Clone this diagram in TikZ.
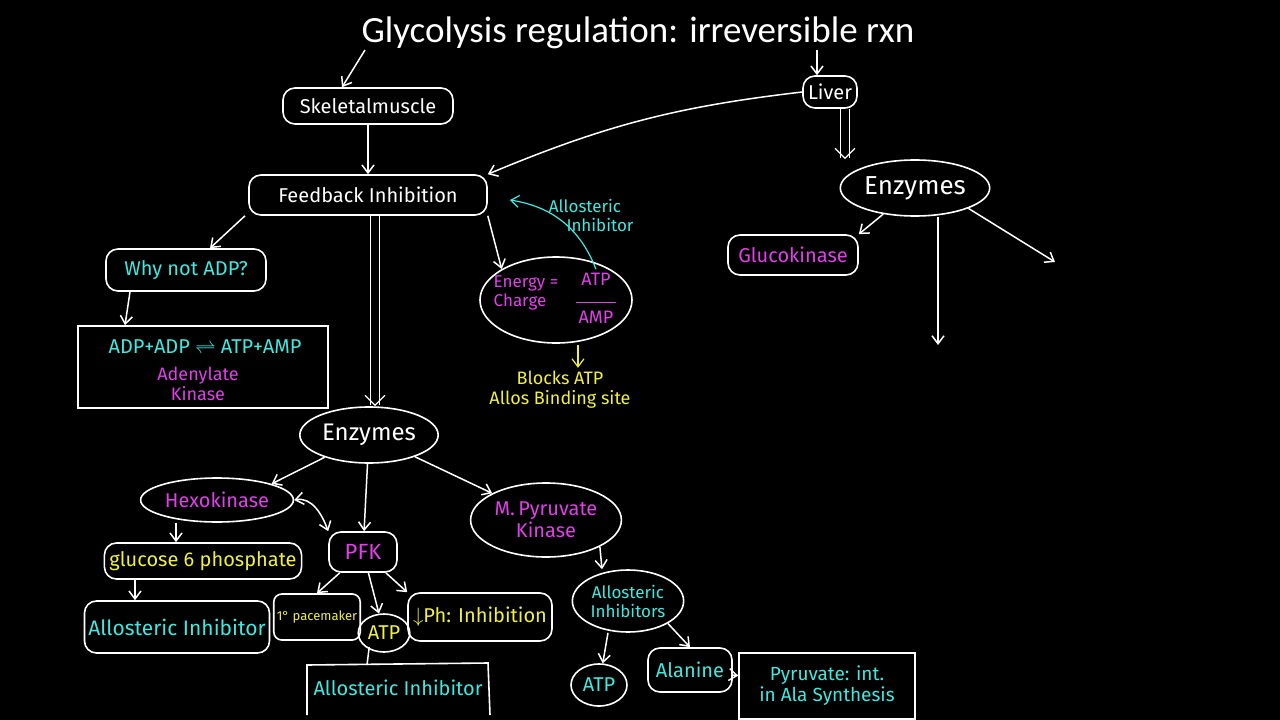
\documentclass[tikz,border=0pt]{standalone}
\usepackage{fontspec}
\setmainfont{Fira Sans}
\newfontfamily\titlefont{Carlito}
\usetikzlibrary{shapes.geometric,arrows.meta}
\definecolor{mag}{HTML}{E040E8}
\definecolor{cy}{HTML}{40E8E0}
\definecolor{yel}{HTML}{F0F040}
\tikzset{
  every node/.style={font=\fontsize{20}{22}\selectfont, align=center},
  rbox/.style={draw=white, line width=1.6pt, rounded corners=12pt, inner sep=5pt},
  sbox/.style={draw=white, line width=1.6pt, inner sep=5pt},
  ebox/.style={draw=white, line width=1.6pt, ellipse, inner sep=2pt},
  arr/.style={draw=white, line width=1.5pt, -{Straight Barb[length=8pt,width=12pt]}},
  dbl/.style={draw=white, line width=1.3pt, double=black, double distance=8pt, -{Straight Barb[length=10pt,width=20pt]}},
}
\begin{document}
\begin{tikzpicture}[x=1pt,y=-1pt]
\fill[black] (0,0) rectangle (1280,720);
\useasboundingbox (0,0) rectangle (1280,720);
\node[text=white, font=\titlefont\fontsize{37}{39}\selectfont] (title) at (638,33) {Glycolysis regulation: irreversible rxn};
\node[rbox, text=white, minimum width=170pt, minimum height=36pt] (skel) at (368,106) {Skeletalmuscle};
\node[rbox, text=white, minimum height=32pt] (liver) at (830,92) {Liver};
\node[rbox, text=white, minimum width=238pt, minimum height=40pt] (fb) at (368,195) {Feedback Inhibition};
\node[ebox, text=white, minimum width=140pt, minimum height=56pt, font=\fontsize{26}{28}\selectfont] (enzR) at (915,188) {Enzymes};
\node[rbox, text=mag, minimum width=130pt, minimum height=40pt] (gluco) at (793,255) {Glucokinase};
\node[rbox, text=cy, minimum width=160pt, minimum height=42pt] (why) at (186,270) {Why not ADP?};
\node[sbox, text=cy, minimum width=250pt, minimum height=82pt] (adp) at (203,367) {};
\node[text=cy] (adpt) at (205,347) {ADP+ADP $\rightleftharpoons$ ATP+AMP};
\node[text=mag, font=\fontsize{18}{20}\selectfont] (aden) at (198,384) {Adenylate\\Kinase};
\node[ebox, minimum width=152pt, minimum height=86pt] (en) at (556,300) {};
\node[text=mag, font=\fontsize{17}{19}\selectfont, align=left] (ect) at (526,293) {Energy =\\Charge};
\node[text=mag, font=\fontsize{18}{20}\selectfont] (frac) at (596,298) {ATP\\[-2pt]\rule{40pt}{1pt}\\AMP};
\node[text=cy, font=\fontsize{17}{19}\selectfont] (allab) at (585,215) {Allosteric\\\hspace*{30pt}Inhibitor};
\coordinate (alt) at (510,200);
\draw[arr, draw=cy, line width=1.2pt] (frac.north) to[bend right=30] (alt);
\node[text=yel, font=\fontsize{18}{20}\selectfont] (blk) at (560,390) {Blocks ATP\\Allos Binding site};
\draw[arr, draw=yel, line width=1.2pt] (578,345) -- (blk.north -| 578,0);
\node[ebox, text=white, minimum width=122pt, minimum height=56pt, font=\fontsize{24}{26}\selectfont] (enzL) at (369,435) {Enzymes};
\node[ebox, text=mag, minimum width=118pt, minimum height=44pt] (hexo) at (217,500) {Hexokinase};
\node[rbox, text=mag, minimum width=68pt, minimum height=40pt, font=\fontsize{22}{24}\selectfont] (pfk) at (363,552) {PFK};
\node[ebox, text=mag, minimum width=124pt, minimum height=74pt] (mpk) at (546,520) {M.\,Pyruvate\\Kinase};
\node[rbox, text=yel, minimum width=176pt, minimum height=36pt] (g6p) at (203,561) {glucose 6 phosphate};
\node[rbox, text=cy, minimum width=185pt, minimum height=52pt, font=\fontsize{21}{23}\selectfont, inner sep=3pt] (allo1) at (177,627) {Allosteric Inhibitor};
\node[rbox, text=yel, minimum width=86pt, minimum height=46pt, font=\fontsize{13}{15}\selectfont, inner sep=3pt, rounded corners=8pt] (pace) at (317,617) {1° pacemaker};
\node[ebox, text=yel, minimum width=50pt, minimum height=38pt] (atp1) at (384,633) {ATP};
\node[rbox, text=yel, minimum width=144pt, minimum height=48pt] (ph) at (480,617) {$\downarrow$Ph: Inhibition};
\draw[white, line width=1.6pt] (307,715) -- (307,665) -- (488,663) -- (490,715);
\node[text=cy] (allo2) at (398,688) {Allosteric Inhibitor};
\node[ebox, text=cy, minimum width=106pt, minimum height=62pt, font=\fontsize{17}{19}\selectfont] (alR) at (628,601) {Allosteric\\Inhibitors};
\node[ebox, text=cy, minimum width=56pt, minimum height=42pt] (atp2) at (599,685) {ATP};
\node[rbox, text=cy, minimum width=84pt, minimum height=44pt] (ala) at (690,670) {Alanine};
\node[sbox, text=cy, minimum width=176pt, minimum height=66pt, font=\fontsize{19}{21}\selectfont] (pyr) at (827,686) {Pyruvate: int.\\in Ala Synthesis};
% connectors
\coordinate (t1) at (365,50); \coordinate (t2) at (817,50);
\draw[arr] (t1) -- (skel.north west -| 342,0);
\draw[arr] (t2) -- (liver.north -| 817,0);
\draw[arr] (skel) -- (fb);
\draw[arr] (liver.west) to[bend right=8] (fb.north east);
\draw[dbl] (liver.south -| 845,0) -- (enzR.north -| 845,0);
\draw[arr] (enzR) -- (gluco.north east);
\coordinate (r1) at (1055,262); \coordinate (r2) at (938,345);
\draw[arr] (enzR.south east) -- (r1);
\draw[arr] (enzR.south -| 938,0) -- (r2);
\draw[arr] (fb.south -| 245,0) -- (why.north -| 210,0);
\draw[arr] (why.south -| 130,0) -- (adp.north -| 125,0);
\draw[dbl] (fb.south -| 375,0) -- (enzL.north -| 375,0);
\draw[arr] (fb.south east) -- (en.north west);
\draw[arr] (enzL) -- (hexo.north east);
\draw[arr] (enzL) -- (pfk);
\draw[arr] (enzL) -- (mpk.north west);
\draw[arr, {Straight Barb[length=8pt,width=12pt]}-{Straight Barb[length=8pt,width=12pt]}] (hexo.east) to[out=10,in=110] (pfk.north west);
\draw[arr] (hexo.south -| 176,0) -- (g6p.north -| 176,0);
\draw[arr] (g6p.south -| 135,0) -- (allo1.north -| 135,0);
\draw[arr] (pfk) -- (pace.north);
\draw[arr] (pfk) -- (atp1);
\draw[arr] (pfk) -- (ph.north west);
\draw[white, line width=1.5pt] (atp1.south west) ++(4,0) -- (367,665);
\draw[arr] (mpk.south east) -- (alR.north -| 602,0);
\draw[arr] (alR.south -| 608,0) -- (atp2);
\draw[arr] (alR.south east) -- (ala.north);
\draw[arr] (ala) -- (pyr);
\end{tikzpicture}
\end{document}
